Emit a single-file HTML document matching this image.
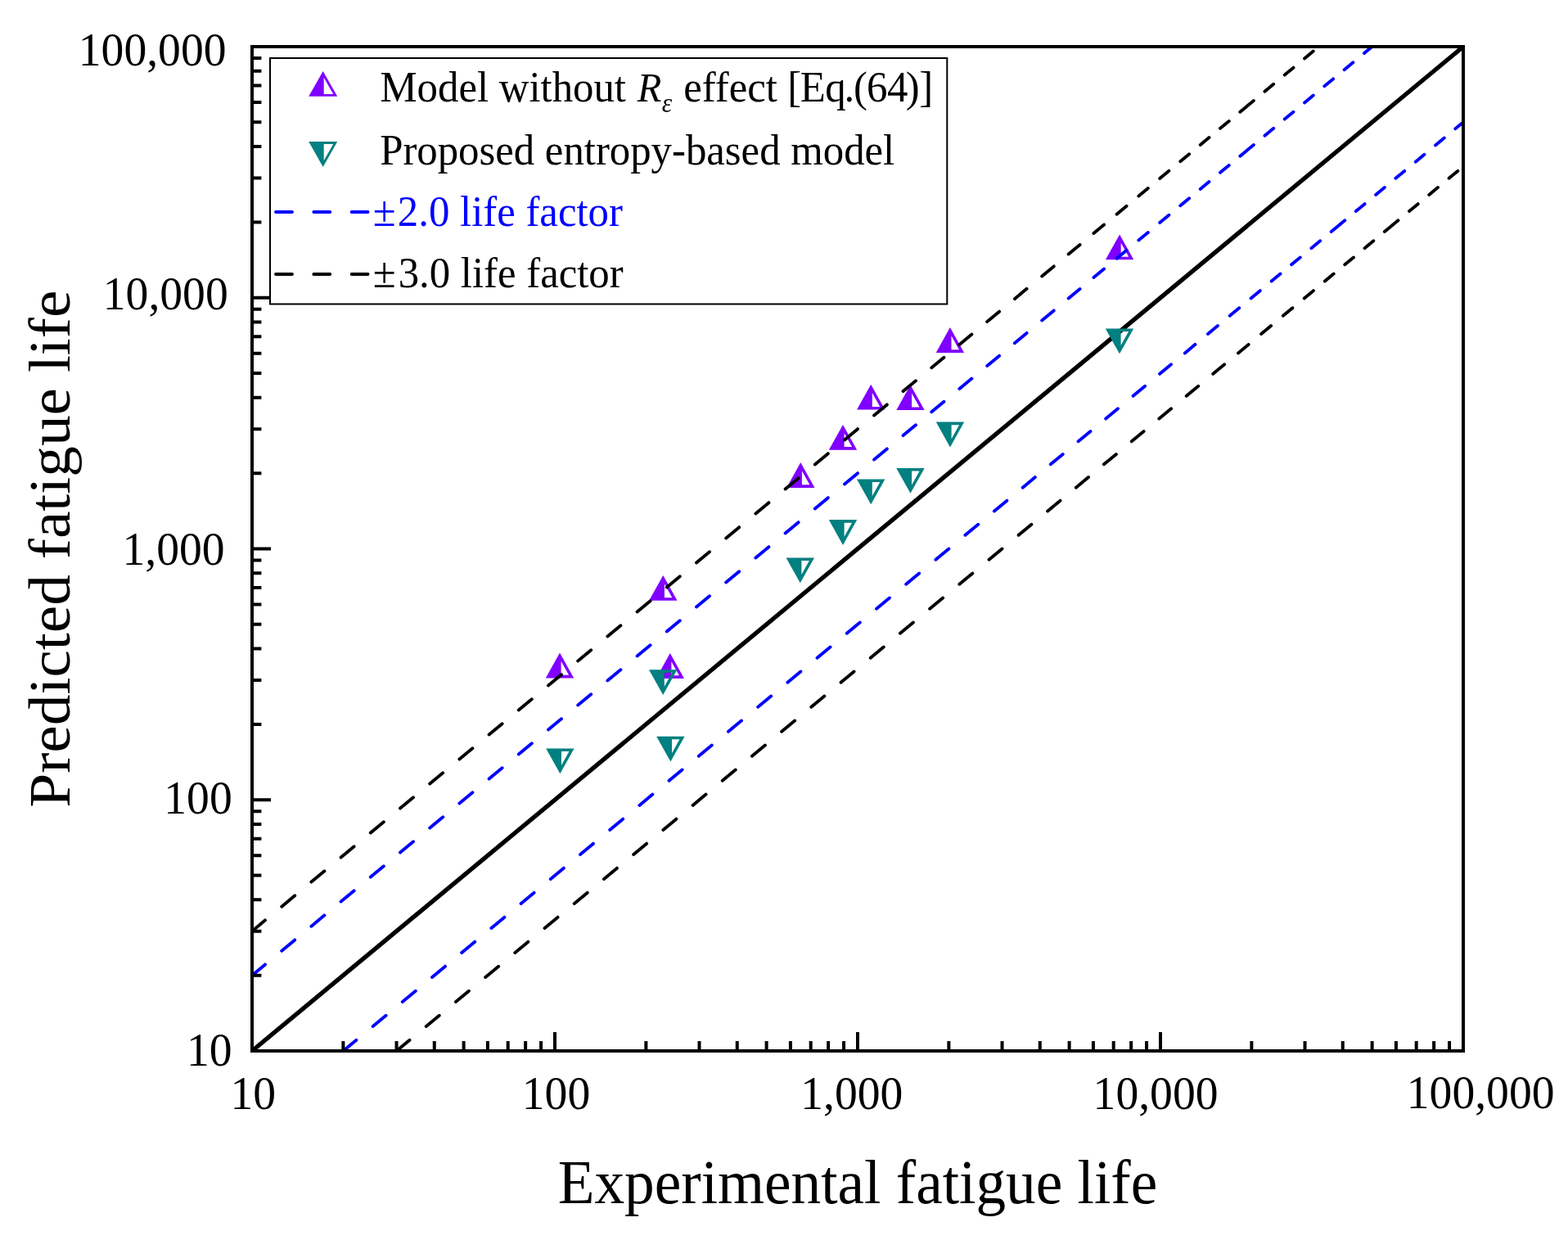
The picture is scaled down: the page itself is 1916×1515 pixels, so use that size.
<!DOCTYPE html>
<html><head><meta charset="utf-8"><title>Fatigue life plot</title><style>
html,body{margin:0;padding:0;background:#fff;}
svg{display:block;}
text{font-family:"Liberation Serif", "Times New Roman", serif;}
</style></head><body>

<svg width="1916" height="1515" viewBox="0 0 1916 1515">
<rect width="1916" height="1515" fill="#fff"/>
<line x1="308" y1="1284" x2="1788" y2="57" stroke="#000" stroke-width="5.3"/>
<path fill="#8000ff" fill-rule="evenodd" d="M684 797.6L701.2 828.4L666.8 828.4ZM685.6 807.85L695.07 824.8L685.6 824.8ZM810.3 703L827.5 733.8L793.1 733.8ZM811.9 713.25L821.37 730.2L811.9 730.2ZM818.8 798.1L836 828.9L801.6 828.9ZM820.4 808.35L829.87 825.3L820.4 825.3ZM978.3 565.1L995.5 595.9L961.1 595.9ZM979.9 575.35L989.37 592.3L979.9 592.3ZM1030 518.9L1047.2 549.7L1012.8 549.7ZM1031.6 529.15L1041.07 546.1L1031.6 546.1ZM1064.2 469.8L1081.4 500.6L1047 500.6ZM1065.8 480.05L1075.27 497L1065.8 497ZM1112.5 470.3L1129.7 501.1L1095.3 501.1ZM1114.1 480.55L1123.57 497.5L1114.1 497.5ZM1160.9 400.1L1178.1 430.9L1143.7 430.9ZM1162.5 410.35L1171.97 427.3L1162.5 427.3ZM1368.1 286.5L1385.3 317.3L1350.9 317.3ZM1369.7 296.75L1379.17 313.7L1369.7 313.7Z"/>
<path fill="#008080" fill-rule="evenodd" d="M667.2 914.5L701.6 914.5L684.4 945.3ZM686 918.1L695.47 918.1L686 935.05ZM793 818.2L827.4 818.2L810.2 849ZM811.8 821.8L821.27 821.8L811.8 838.75ZM802.2 899.7L836.6 899.7L819.4 930.5ZM821 903.3L830.47 903.3L821 920.25ZM960.6 681.5L995 681.5L977.8 712.3ZM979.4 685.1L988.87 685.1L979.4 702.05ZM1012.8 635.1L1047.2 635.1L1030 665.9ZM1031.6 638.7L1041.07 638.7L1031.6 655.65ZM1047 585.4L1081.4 585.4L1064.2 616.2ZM1065.8 589L1075.27 589L1065.8 605.95ZM1095.3 571.9L1129.7 571.9L1112.5 602.7ZM1114.1 575.5L1123.57 575.5L1114.1 592.45ZM1143.8 515.6L1178.2 515.6L1161 546.4ZM1162.6 519.2L1172.07 519.2L1162.6 536.15ZM1350.8 401.5L1385.2 401.5L1368 432.3ZM1369.6 405.1L1379.07 405.1L1369.6 422.05Z"/>
<path d="M308 1191.66L324.01 1178.39M344.2 1161.65L360.21 1148.38M380.4 1131.64L396.41 1118.37M416.6 1101.62L432.61 1088.35M452.8 1071.61L468.81 1058.34M489 1041.6L505.01 1028.33M525.2 1011.59L541.21 998.32M561.4 981.58L577.41 968.31M597.6 951.56L613.6 938.3M633.8 921.55L649.8 908.29M670 891.54L686 878.28M706.2 861.53L722.2 848.26M742.4 831.52L758.4 818.25M778.6 801.5L794.6 788.24M814.8 771.49L830.8 758.23M851 741.48L867 728.22M887.2 711.47L903.2 698.2M923.4 681.46L939.4 668.19M959.6 651.45L975.6 638.18M995.8 621.43L1011.8 608.17M1032 591.42L1048 578.16M1068.09 561.5L1083.85 548.44M1103.54 532.11L1118.99 519.31M1138.3 503.3L1153.44 490.74M1172.4 475.02L1187.37 462.61M1206.21 447L1221.09 434.66M1239.81 419.14L1254.59 406.89M1273.19 391.47L1287.72 379.42M1305.69 364.52L1319.62 352.97M1336.43 339.04L1349.1 328.53M1364.61 315.67L1376.58 305.75M1391.33 293.52L1402.85 283.97M1417.2 272.08L1428.4 262.79M1442.31 251.25L1453.16 242.26M1466.72 231.02L1477.46 222.12M1491.02 210.87L1501.76 201.97M1515.32 190.73L1521.14 185.9M1521.14 185.9L1531.89 176.99M1545.45 165.75L1556.19 156.84M1569.75 145.6L1580.49 136.7M1594.05 125.45L1604.79 116.55M1618.35 105.31L1629.09 96.41M1642.65 85.16L1653.39 76.26M1666.95 65.02L1676.62 57" stroke="#0000ff" stroke-width="3.9" stroke-linecap="round" fill="none"/>
<path d="M419.38 1284L435.39 1270.73M455.58 1253.99L471.59 1240.72M491.78 1223.98L507.79 1210.71M527.98 1193.96L543.99 1180.69M564.18 1163.95L580.19 1150.68M600.38 1133.94L616.39 1120.67M636.58 1103.93L652.59 1090.66M672.78 1073.92L688.79 1060.65M708.98 1043.9L724.98 1030.64M745.18 1013.89L761.18 1000.63M781.38 983.88L797.38 970.62M817.58 953.87L833.58 940.61M853.78 923.86L869.78 910.59M889.98 893.85L905.98 880.58M926.18 863.83L942.18 850.57M962.38 833.82L978.38 820.56M998.58 803.81L1014.58 790.55M1034.78 773.8L1050.78 760.53M1070.98 743.79L1086.98 730.52M1107.18 713.77L1123.18 700.51M1143.38 683.76L1159.38 670.5M1179.47 653.84L1195.23 640.78M1214.92 624.45L1230.37 611.65M1249.68 595.64L1264.82 583.08M1283.78 567.36L1298.75 554.96M1317.59 539.34L1332.47 527M1351.19 511.48L1365.97 499.23M1384.57 483.81L1399.1 471.76M1417.08 456.86L1431 445.31M1447.81 431.38L1460.48 420.87M1475.99 408.01L1487.96 398.09M1502.71 385.86L1514.23 376.31M1528.58 364.42L1539.78 355.13M1553.69 343.6L1564.54 334.6M1578.1 323.36L1588.84 314.46M1602.4 303.21L1613.14 294.31M1626.7 283.07L1632.52 278.24M1632.52 278.24L1643.27 269.33M1656.83 258.09L1667.57 249.19M1681.13 237.94L1691.87 229.04M1705.43 217.8L1716.17 208.89M1729.73 197.65L1740.47 188.75M1754.03 177.5L1764.77 168.6M1778.33 157.36L1788 149.34" stroke="#0000ff" stroke-width="3.9" stroke-linecap="round" fill="none"/>
<path d="M308 1137.64L324.01 1124.37M344.2 1107.63L360.2 1094.36M380.4 1077.62L396.4 1064.35M416.61 1047.6L432.61 1034.34M452.8 1017.59L468.8 1004.33M489 987.58L505.01 974.31M525.2 957.57L541.2 944.3M561.4 927.56L577.4 914.29M597.61 897.54L613.61 884.28M633.8 867.53L649.8 854.27M670 837.53L686.01 824.26M706.2 807.51L722.2 794.25M742.4 777.5L758.4 764.24M778.61 747.49L794.61 734.22M814.8 717.48L830.8 704.21M851 687.47L867.01 674.2M887.2 657.45L903.2 644.19M923.4 627.44L939.4 614.18M959.61 597.43L975.61 584.16M995.8 567.42L1011.8 554.15M1032 537.41L1048 524.14M1068.09 507.48L1083.85 494.42M1103.54 478.1L1118.99 465.29M1138.3 449.28L1153.44 436.73M1172.4 421.01L1187.37 408.59M1206.21 392.98L1221.09 380.64M1239.81 365.13L1254.59 352.87M1273.19 337.45L1287.72 325.41M1305.7 310.5L1319.62 298.95M1336.43 285.02L1349.1 274.52M1364.61 261.65L1376.57 251.74M1391.33 239.51L1402.84 229.96M1417.2 218.06L1428.4 208.77M1442.31 197.24L1453.16 188.24M1466.72 177L1477.46 168.1M1491.02 156.86L1501.76 147.95M1515.32 136.71L1521.14 131.88M1521.14 131.88L1531.88 122.98M1545.44 111.73L1556.18 102.83M1569.75 91.59L1580.49 82.68M1594.04 71.44L1604.78 62.54" stroke="#000" stroke-width="3.9" stroke-linecap="round" fill="none"/>
<path d="M484.53 1284L500.54 1270.73M520.74 1253.98L536.74 1240.72M556.94 1223.98L572.94 1210.71M593.14 1193.96L609.14 1180.7M629.34 1163.95L645.34 1150.69M665.53 1133.94L681.54 1120.67M701.74 1103.93L717.74 1090.66M737.94 1073.92L753.94 1060.65M774.14 1043.9L790.14 1030.64M810.34 1013.89L826.34 1000.63M846.54 983.88L862.54 970.61M882.74 953.87L898.74 940.6M918.94 923.86L934.94 910.59M955.14 893.84L971.14 880.58M991.34 863.83L1007.34 850.57M1027.54 833.82L1043.54 820.55M1063.74 803.81L1079.74 790.54M1099.94 773.8L1115.94 760.53M1136.14 743.78L1152.14 730.52M1172.34 713.77L1188.34 700.51M1208.54 683.76L1224.54 670.5M1244.63 653.84L1260.38 640.78M1280.08 624.45L1295.52 611.65M1314.83 595.64L1329.97 583.09M1348.94 567.36L1363.91 554.95M1382.74 539.34L1397.62 527M1416.34 511.48L1431.12 499.23M1449.72 483.81L1464.25 471.76M1482.23 456.86L1496.16 445.31M1512.96 431.38L1525.63 420.88M1541.15 408.01L1553.11 398.1M1567.86 385.86L1579.38 376.31M1593.73 364.42L1604.93 355.13M1618.85 343.59L1629.69 334.6M1643.26 323.36L1654 314.45M1667.55 303.21L1678.29 294.31M1691.86 283.07L1697.68 278.24M1697.68 278.24L1708.42 269.34M1721.98 258.09L1732.72 249.19M1746.28 237.94L1757.02 229.04M1770.58 217.8L1781.32 208.9" stroke="#000" stroke-width="3.9" stroke-linecap="round" fill="none"/>
<path d="M308 1284V1261M308 1284H331M419.38 1284V1272M308 1191.66H319.4M484.53 1284V1272M308 1137.64H319.4M530.76 1284V1272M308 1099.32H319.4M566.62 1284V1272M308 1069.59H319.4M595.92 1284V1272M308 1045.3H319.4M620.69 1284V1272M308 1024.77H319.4M642.14 1284V1272M308 1006.98H319.4M661.07 1284V1272M308 991.29H319.4M678 1284V1261M308 977.25H331M789.38 1284V1272M308 884.91H319.4M854.53 1284V1272M308 830.89H319.4M900.76 1284V1272M308 792.57H319.4M936.62 1284V1272M308 762.84H319.4M965.92 1284V1272M308 738.55H319.4M990.69 1284V1272M308 718.02H319.4M1012.14 1284V1272M308 700.23H319.4M1031.07 1284V1272M308 684.54H319.4M1048 1284V1261M308 670.5H331M1159.38 1284V1272M308 578.16H319.4M1224.53 1284V1272M308 524.14H319.4M1270.76 1284V1272M308 485.82H319.4M1306.62 1284V1272M308 456.09H319.4M1335.92 1284V1272M308 431.8H319.4M1360.69 1284V1272M308 411.27H319.4M1382.14 1284V1272M308 393.48H319.4M1401.07 1284V1272M308 377.79H319.4M1418 1284V1261M308 363.75H331M1529.38 1284V1272M308 271.41H319.4M1594.53 1284V1272M308 217.39H319.4M1640.76 1284V1272M308 179.07H319.4M1676.62 1284V1272M308 149.34H319.4M1705.92 1284V1272M308 125.05H319.4M1730.69 1284V1272M308 104.52H319.4M1752.14 1284V1272M308 86.73H319.4M1771.07 1284V1272M308 71.04H319.4" stroke="#000" stroke-width="4" fill="none"/>
<rect x="308" y="57" width="1480" height="1227" fill="none" stroke="#000" stroke-width="4"/>
<rect x="330" y="71" width="827.3" height="300.5" fill="#fff" stroke="#000" stroke-width="2"/>
<path fill="#8000ff" fill-rule="evenodd" d="M394.7 87L412.2 117.8L377.2 117.8ZM395.7 94.63L407.22 114.9L395.7 114.9Z"/>
<path fill="#008080" fill-rule="evenodd" d="M377.2 173.1L412.2 173.1L394.7 203.9ZM395.7 176L407.22 176L395.7 196.27Z"/>
<path d="M337 259H450" stroke="#0000ff" stroke-dasharray="20 26.3" stroke-linecap="round" stroke-width="3.8" fill="none"/>
<path d="M337 335H450" stroke="#000" stroke-dasharray="20 26.3" stroke-linecap="round" stroke-width="3.8" fill="none"/>
<text transform="translate(95.81 79.6) scale(1 1.04)" font-size="55.6" fill="#000">100,000</text>
<text transform="translate(125.81 378.4) scale(1 1.04)" font-size="55.6" fill="#000">10,000</text>
<text transform="translate(149.51 690.4) scale(1 1.04)" font-size="55.6" fill="#000">1,000</text>
<text transform="translate(200.31 994.1) scale(1 1.04)" font-size="55.6" fill="#000">100</text>
<text transform="translate(227.91 1301.5) scale(1 1.04)" font-size="55.6" fill="#000">10</text>
<text transform="translate(281.51 1355.4) scale(1 1.04)" font-size="55.6" fill="#000">10</text>
<text transform="translate(637.81 1355.4) scale(1 1.04)" font-size="55.6" fill="#000">100</text>
<text transform="translate(978.21 1355.4) scale(1 1.04)" font-size="55.6" fill="#000">1,000</text>
<text transform="translate(1335.61 1355.4) scale(1 1.04)" font-size="55.6" fill="#000">10,000</text>
<text transform="translate(1718.81 1354) scale(1 1.04)" font-size="55.6" fill="#000">100,000</text>
<text transform="translate(681.69 1470) scale(1 1.04)" font-size="73.3" fill="#000">Experimental fatigue life</text>
<text transform="translate(85.4 986.77) scale(1 1.04) rotate(-90)" font-size="72.5" fill="#000">Predicted fatigue life</text>
<text transform="translate(464.44 124) scale(1 1.04)" font-size="50.8" fill="#000">Model without</text>
<text transform="translate(778.86 123.9) scale(1 1.04)" font-size="48.5" fill="#000" font-style="italic">R</text>
<text transform="translate(808.72 136.6) scale(1 1.04)" font-size="31.5" fill="#000" font-style="italic">ε</text>
<text transform="translate(835.32 124) scale(1 1.04)" font-size="50.8" fill="#000">effect</text>
<text transform="translate(962.18 124) scale(1 1.04)" font-size="50.8" fill="#000" x="0 15.66 46.08 69.37 80.89 96.74 121.73 144.48 161.08">[Eq.(64)]</text>
<text transform="translate(464.14 200.8) scale(1 1.04)" font-size="50.8" fill="#000">Proposed entropy-based model</text>
<text transform="translate(455.69 275.6) scale(1 1.04)" font-size="50.8" fill="#0000ff">±</text>
<text transform="translate(485.87 275.6) scale(1 1.04)" font-size="50.8" fill="#0000ff">2.0 life factor</text>
<text transform="translate(455.69 351.2) scale(1 1.04)" font-size="50.8" fill="#000">±</text>
<text transform="translate(486.67 351.2) scale(1 1.04)" font-size="50.8" fill="#000">3.0 life factor</text>
</svg>
</body></html>
